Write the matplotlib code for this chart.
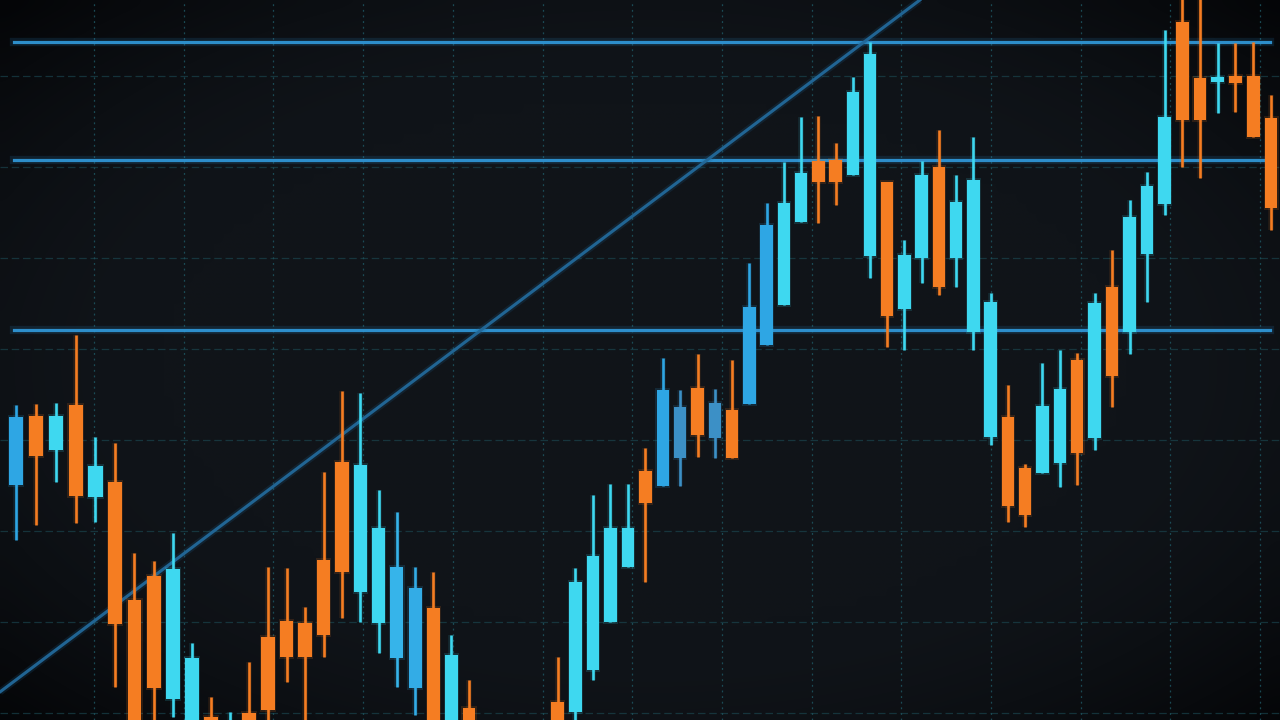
import numpy as np
import matplotlib
matplotlib.use("Agg")
import matplotlib.pyplot as plt

nan = np.nan
# OHLC series (price units), one entry per session; NaN = off-screen sessions
opens = [23.5, 30.4, 27.0, 31.5, 22.3, 23.8, 12.0, 14.4, 2.1, -2.0,
         0.3, -5.0, 0.7, 8.3, 9.9, 9.7, 16.0, 25.8, 12.8, 9.7,
         6.2, 3.2, 11.2, -3.0, 1.2, nan, nan, nan, nan, 1.8,
         0.8, 5.0, 9.8, 15.3, 24.9, 23.4, 26.2, 33.2, 28.2, 31.0,
         31.6, 37.5, 41.5, 49.8, 55.9, 56.0, 54.5, 46.4, 53.8, 41.1,
         46.2, 55.3, 46.2, 38.8, 28.3, 30.3, 25.2, 24.7, 25.7, 36.0,
         28.2, 43.3, 38.8, 46.6, 51.6, 69.8, 64.2, 63.8, 64.4, 64.4,
         60.2]
highs = [31.5, 31.6, 31.7, 38.5, 28.3, 27.7, 16.7, 15.9, 18.7, 7.7,
         2.3, 0.8, 5.8, 15.3, 15.2, 11.3, 24.8, 32.9, 32.7, 23.0,
         20.8, 15.3, 14.8, 8.5, 4.0, nan, nan, nan, nan, 6.3,
         15.2, 22.5, 23.6, 23.6, 27.2, 36.2, 33.0, 36.6, 33.1, 36.0,
         45.7, 51.7, 55.8, 60.3, 60.4, 57.7, 64.3, 67.8, 53.8, 48.0,
         55.9, 59.0, 54.5, 58.3, 42.7, 33.5, 25.6, 35.7, 37.0, 36.7,
         42.7, 47.0, 52.0, 54.8, 69.0, 73.0, 73.0, 67.7, 67.7, 67.8,
         62.5]
lows = [18.0, 19.5, 23.8, 19.7, 19.8, 3.3, -4.0, -1.0, 0.3, -4.0,
        -6.0, -7.0, -5.0, -2.0, 3.8, -1.0, 6.3, 10.2, 9.8, 6.7,
        3.3, 0.5, -6.0, -5.0, -6.0, nan, nan, nan, nan, -6.0,
        -2.0, 4.0, 9.8, 15.3, 13.8, 23.4, 23.4, 26.3, 26.2, 26.2,
        31.6, 37.5, 41.5, 49.8, 49.7, 51.5, 54.5, 44.2, 37.3, 37.0,
        43.7, 42.5, 43.3, 37.0, 27.5, 19.8, 19.3, 24.7, 23.3, 23.5,
        27.0, 31.3, 36.6, 41.8, 50.5, 55.3, 54.2, 60.7, 60.8, 58.3,
        49.0]
closes = [30.3, 26.4, 30.4, 22.4, 25.4, 9.6, -2.0, 3.2, 15.1, 6.2,
          -4.0, -0.5, -3.0, 1.0, 6.3, 6.3, 8.5, 14.8, 25.5, 19.2,
          15.3, 13.2, -4.0, 6.5, -4.0, nan, nan, nan, nan, -4.0,
          13.8, 16.4, 19.2, 19.2, 21.7, 33.0, 31.3, 28.5, 31.7, 26.2,
          41.3, 49.5, 51.7, 54.7, 53.8, 53.8, 62.8, 66.6, 40.4, 46.5,
          54.5, 43.3, 51.8, 54.0, 41.8, 21.4, 20.5, 31.4, 33.1, 26.7,
          41.7, 34.4, 50.3, 53.4, 60.3, 60.0, 60.0, 64.3, 63.7, 58.3,
          51.2]

levels = [67.8, 56.0, 39.0]          # horizontal support / resistance
trend_x = [-0.8, 49.9]               # trend line anchor sessions
trend_y = [2.8, 72.0]                # trend line anchor prices

# style
BG_CENTER = np.array([0x10, 0x14, 0x19]) / 255
BG_EDGE = np.array([0x04, 0x05, 0x07]) / 255
ORANGE = "#f57d22"
CYAN = "#3ed8f0"
BLUE = "#2ea6e4"
MUTED = "#3c90c6"
deep_blue = {0: BLUE, 20: "#36b4ea", 21: "#33ace6", 35: BLUE, 36: MUTED,
             38: MUTED, 40: BLUE, 41: BLUE}

# slight perspective of the photo (cubic x-scale)
CA, CB, CC = 20.104, -0.06172, 0.0004378


def fwd(i):
    i = np.asarray(i, dtype=float)
    return CA * i + CB * i ** 2 + CC * i ** 3


_grid = np.linspace(-60, 160, 4001)
_fgrid = fwd(_grid)


def inv(v):
    return np.interp(np.asarray(v, dtype=float), _fgrid, _grid)


fig = plt.figure(figsize=(12.8, 7.2), dpi=100)
fig.patch.set_facecolor("#07090b")

# background with vignette and vertical dotted grid
bg = fig.add_axes([0, 0, 1, 1])
bg.set_xlim(0, 1280)
bg.set_ylim(720, 0)
yy, xx = np.mgrid[0:72, 0:128]
r = np.sqrt(((xx - 64) / 64) ** 2 + ((yy - 36) / 36) ** 2) / np.sqrt(2)
t = np.clip((r - 0.55) / 0.45, 0, 1) ** 1.6
img = BG_CENTER[None, None, :] * (1 - t[..., None]) + BG_EDGE[None, None, :] * t[..., None]
bg.imshow(img, extent=(0, 1280, 720, 0), aspect="auto", interpolation="bicubic", zorder=0)
for gx in np.arange(94, 1280, 89.7):
    bg.axvline(gx, color="#1f5a66", lw=0.9, ls=(0, (1.5, 3)), alpha=0.8, zorder=1)
bg.axis("off")

ax = fig.add_axes([0, 0, 1, 1])
ax.patch.set_alpha(0)
ax.set_xscale("function", functions=(fwd, inv))
ax.set_xlim(float(inv(-16)), float(inv(1264)))
ax.set_ylim(0, 72)
ax.set_yticks(np.arange(0.7, 72, 9.1))
ax.grid(axis="y", color="#1c4c56", lw=0.9, ls=(0, (6, 3)), alpha=0.6)
ax.grid(axis="x", visible=False)
ax.set_axisbelow(True)
ax.tick_params(left=False, bottom=False, labelleft=False, labelbottom=False)
for s in ax.spines.values():
    s.set_visible(False)

# levels with glow
for lv in levels:
    ax.axhline(lv, xmin=14 / 1280, xmax=1270 / 1280, color="#2a8ccc", lw=6, alpha=0.15, zorder=2)
    ax.axhline(lv, xmin=14 / 1280, xmax=1270 / 1280, color="#2f95d4", lw=2.3, alpha=0.95, zorder=2)

# trend line
ax.plot(trend_x, trend_y, color="#1d5f8c", lw=5, alpha=0.2, zorder=2, solid_capstyle="butt")
ax.plot(trend_x, trend_y, color="#22699a", lw=2.2, alpha=0.95, zorder=2)

# candles
for i, (o, h, l, c) in enumerate(zip(opens, highs, lows, closes)):
    if np.isnan(o):
        continue
    up = c >= o
    col = deep_blue.get(i, CYAN) if up else ORANGE
    ax.vlines(i, l, h, color=col, lw=4, alpha=0.12, zorder=3)
    ax.vlines(i, l, h, color=col, lw=1.9, zorder=4)
    lo, hi = min(o, c), max(o, c)
    if hi - lo < 0.5:
        lo, hi = (lo + hi) / 2 - 0.25, (lo + hi) / 2 + 0.25
    ax.bar(i, hi - lo + 0.4, bottom=lo - 0.2, width=0.84, color=col, alpha=0.15,
           zorder=4, linewidth=0)
    ax.bar(i, hi - lo, bottom=lo, width=0.72, color=col, zorder=5, linewidth=0)

fig.savefig("out.png", dpi=100, facecolor=fig.get_facecolor())
